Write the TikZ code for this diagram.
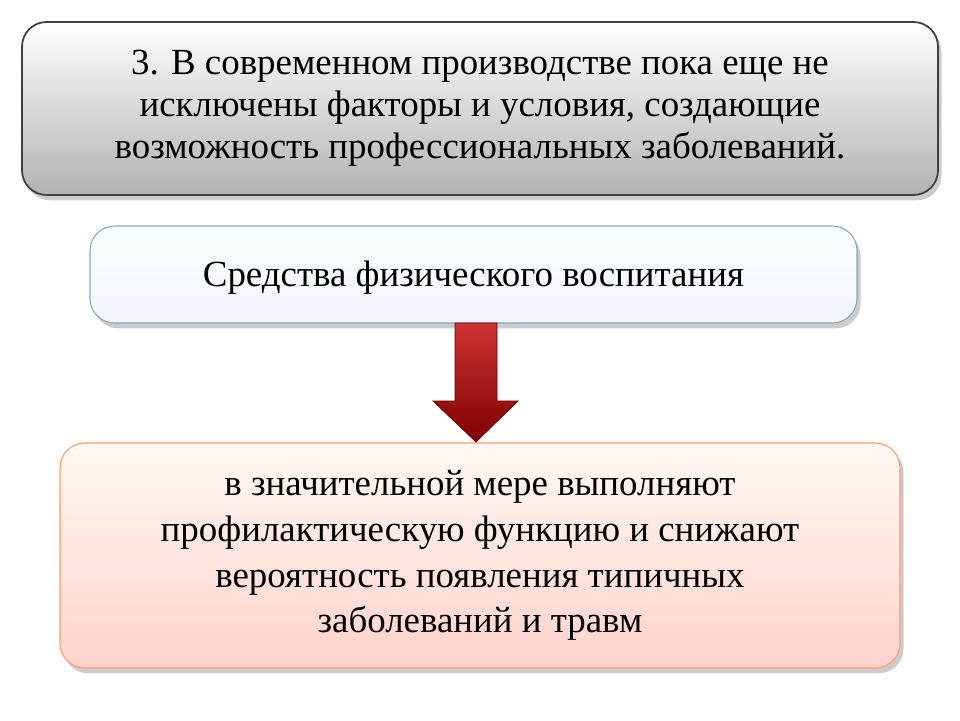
\documentclass[tikz,border=0pt]{standalone}
\usepackage{fontspec}
\setmainfont{Liberation Serif}
\usetikzlibrary{shadows}
\tikzset{
  panel/.style={rounded corners=14pt, align=center, inner sep=0pt,
    drop shadow={shadow xshift=2pt, shadow yshift=-3pt, opacity=0.4}},
}
\begin{document}
\begin{tikzpicture}[x=0.02cm,y=-0.02cm]
\useasboundingbox (0,0) rectangle (960,720);
% top box
\node[panel, draw=black!75, line width=1pt, top color=white, bottom color=black!30,
  minimum width=916*0.02cm, minimum height=173*0.02cm, font=\fontsize{21}{24}\selectfont]
  (cause) at (480,108.5) {3. В современном производстве пока еще не\\исключены факторы и условия, создающие\\возможность профессиональных заболеваний.};
% middle box
\node[panel, draw=cyan!50!black!60, line width=0.6pt, top color=cyan!3, bottom color=cyan!15!blue!5,
  minimum width=767*0.02cm, minimum height=97*0.02cm, font=\fontsize{21}{24}\selectfont]
  (means) at (473.5,274.5) {\raisebox{-7pt}[0pt][0pt]{Средства физического воспитания}};
% bottom box
\node[panel, draw=orange!70!red!60, line width=0.6pt, top color=orange!5, bottom color=orange!25!red!20,
  minimum width=840*0.02cm, minimum height=225*0.02cm, font=\fontsize{21}{26}\selectfont]
  (effect) at (480,555.5) {в значительной мере выполняют\\профилактическую функцию и снижают\\вероятность появления типичных\\заболеваний и травм};
% arrow
\shade[top color=red!75!black!80, bottom color=red!50!black, draw=red!40!black, line width=0.4pt]
  (455,323) -- (497,323) -- (497,401) -- (518,401) -- (476,442) -- (433,401) -- (455,401) -- cycle;
\end{tikzpicture}
\end{document}
